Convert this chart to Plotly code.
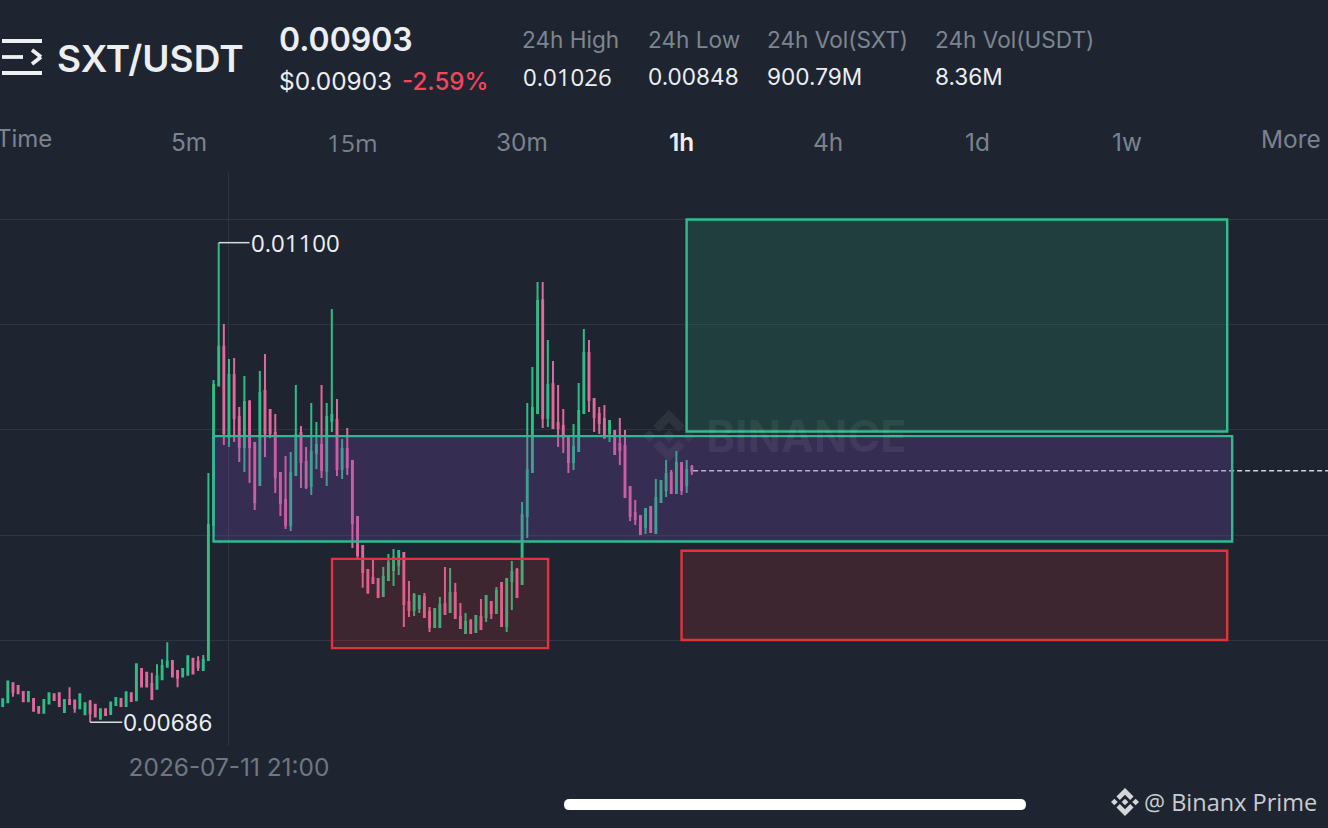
import numpy as np
import pandas as pd
import plotly.graph_objects as go

W, H = 1328, 828
PLOT_TOP, PLOT_BOTTOM = 172, 746
BG = "#1e2530"
UP = "#2ebd85"
DOWN = "#e0699c"
FONT = "Inter"
ALT = "Open Sans"

# OHLC, in units of 0.00001 USDT
open_e5 = [700.1,703.2,719.6,717.3,712.2,704.1,706.1,699.2,694.3,702.1,710.1,711.0,694.9,705.3,704.7,698.1,692.9,703.8,701.2,689.1,
697.2,693.2,700.9,706.1,700.1,711.0,705.0,732.0,728.8,719.1,715.0,723.1,734.0,738.9,730.3,725.4,727.1,740.9,738.3,731.1,
739.8,856.3,976.6,1010.2,932.3,985.8,949.5,923.6,962.5,927.1,890.8,972.0,955.6,935.7,901.2,877.9,856.3,899.5,935.7,910.7,
890.0,918.5,925.4,903.0,946.1,947.0,904.7,921.9,911.6,863.2,838.2,817.5,810.6,809.7,795.0,808.8,817.5,821.8,832.2,789.9,
783.0,784.7,794.2,781.2,768.3,768.3,788.1,781.2,797.6,776.9,763.1,773.4,764.0,776.9,776.9,789.9,780.4,806.3,769.1,808.0,
817.5,805.4,864.1,902.1,953.0,1050.5,948.7,978.0,944.4,941.8,933.1,910.7,920.2,953.0,1004.8,965.1,952.1,947.8,935.7,937.5,
926.2,924.5,889.1,866.7,864.1,854.6,871.9,849.4,876.2,886.5,901.2,884.0,909.8,890.8,906.4]
high_e5 = [705.8,721.1,720.2,717.3,712.2,712.2,706.1,699.2,705.3,711.0,710.1,711.0,705.3,716.2,705.3,710.1,702.4,705.3,701.2,697.2,
697.2,703.0,707.0,706.1,711.9,711.0,736.0,732.0,728.8,728.8,736.0,740.4,755.0,738.9,730.3,732.0,743.0,740.9,743.0,744.1,
901.2,981.5,1100.0,1029.8,999.6,1000.5,958.2,984.9,964.2,927.1,989.3,1003.9,956.4,952.1,901.2,915.9,919.3,977.2,941.8,923.6,
961.6,945.2,977.2,961.6,1042.8,965.1,930.5,940.0,911.6,863.2,838.2,817.5,827.0,809.7,820.1,831.3,835.6,833.9,832.2,808.0,
797.6,795.0,797.6,785.5,783.8,794.2,820.1,819.2,806.3,789.0,780.4,775.2,777.8,792.4,795.0,789.9,802.8,806.3,809.7,825.3,
819.2,876.2,961.6,992.7,1066.1,1066.1,1016.0,997.9,977.2,956.4,933.1,943.5,978.9,1025.5,1016.0,965.1,958.2,959.9,946.1,937.5,
948.7,938.3,889.1,877.9,864.1,870.1,871.9,896.0,894.3,912.4,903.8,920.2,909.8,912.4,908.1]
low_e5 = [700.1,703.2,708.1,711.0,704.1,704.1,696.0,694.3,694.3,702.1,705.3,700.1,694.9,700.9,694.3,698.1,692.9,686.0,690.9,689.1,
692.3,693.2,700.9,700.1,700.1,704.4,705.0,716.8,716.8,706.1,715.0,723.1,734.0,725.4,716.2,725.4,727.1,728.0,730.3,731.1,
739.5,856.3,976.6,925.4,923.6,928.0,910.7,902.1,892.6,869.3,890.8,915.0,931.4,884.0,864.1,852.9,851.1,899.5,888.3,887.4,
882.2,904.7,896.9,890.0,936.6,898.6,896.0,899.5,836.4,827.8,802.0,796.8,806.3,794.2,795.0,808.0,803.7,813.2,768.3,776.9,
777.8,780.4,776.9,764.0,768.3,768.3,778.6,780.4,776.0,766.5,762.2,762.2,764.0,766.5,772.6,775.2,780.4,769.1,764.0,783.0,
794.2,805.4,845.1,902.1,953.0,940.0,940.9,939.2,923.6,918.5,901.2,903.8,920.2,953.0,953.9,936.6,934.9,930.5,928.0,917.6,
908.1,880.5,859.8,856.3,848.6,848.6,850.3,849.4,875.3,880.5,883.1,884.0,882.2,884.0,899.5]
close_e5 = [705.8,721.1,712.4,711.0,704.1,712.2,696.0,694.3,705.3,711.0,705.3,700.1,705.3,701.8,698.1,710.1,702.4,693.7,690.9,697.2,
692.3,703.0,707.0,700.1,711.9,704.4,736.0,716.8,716.8,706.1,725.4,734.6,738.3,725.4,724.5,732.0,743.0,728.0,733.4,739.8,
856.3,977.2,1010.2,935.7,985.8,948.7,923.6,962.5,923.6,876.2,970.3,935.7,935.7,897.8,875.3,856.3,901.2,934.0,910.7,889.1,
919.3,925.4,903.8,949.5,951.3,904.7,921.9,906.4,858.0,830.4,815.7,798.5,806.3,794.2,811.4,823.5,827.8,833.9,788.1,783.0,
795.9,795.0,776.9,768.3,783.8,787.3,779.5,797.6,776.0,767.4,772.6,763.1,777.8,766.5,795.0,780.4,799.3,769.1,809.7,815.7,
794.2,864.9,903.8,957.3,1049.7,948.7,977.2,940.0,940.0,932.3,910.7,923.6,954.7,1004.8,964.2,949.5,944.4,932.3,946.1,917.6,
921.0,880.5,864.1,861.5,848.6,870.1,850.3,879.6,894.3,900.3,884.0,909.8,886.5,903.8,903.0]
times = pd.date_range("2026-07-10 01:00", periods=len(open_e5), freq="h")

grid_prices = [0.011203, 0.010293, 0.009383, 0.008473, 0.007563, 0.006660]
axis_tick_time = ["2026-07-11 21:00"]
axis_tick_text = ["2026-07-11 21:00"]
high_mark = ("2026-07-11 19:00", 0.01100, "2026-07-12 01:00", "0.01100", ALT, 24)
low_mark = ("2026-07-10 18:00", 0.00686, "2026-07-11 00:15", "0.00686", FONT, 22.4)
last_price = 0.00903

# start, end, low price, high price, line colour, fill colour
zones = [
    ("2026-07-15 13:59", "2026-07-19 23:06", 0.00937, 0.01120, "#2fbd8c", "rgba(46,189,133,0.17)"),
    ("2026-07-11 18:00", "2026-07-20 00:04", 0.00842, 0.00933, "#37b591", "rgba(122,73,184,0.25)"),
    ("2026-07-12 17:02", "2026-07-14 11:03", 0.00750, 0.00827, "#e5323a", "rgba(226,48,56,0.17)"),
    ("2026-07-15 13:00", "2026-07-19 23:06", 0.00757, 0.00834, "#e5323a", "rgba(226,48,56,0.17)"),
]

to_price = lambda a: np.array(a) * 1e-5


def fx(x):
    return x / W


def fy(y):
    return (PLOT_BOTTOM - y) / (PLOT_BOTTOM - PLOT_TOP)


def px(x, y):
    return f"{fx(x):.5f},{fy(y):.5f}"


def path(points):
    return "M" + " L".join(px(*p) for p in points) + " Z"


def logo(cx, cy, r, color, layer):
    parts = [
        [(0, -1), (.61, -.39), (.37, -.15), (0, -.52), (-.37, -.15), (-.61, -.39)],
        [(0, 1), (.61, .39), (.37, .15), (0, .52), (-.37, .15), (-.61, .39)],
        [(0, -.24), (.24, 0), (0, .24), (-.24, 0)],
        [(-.76, -.24), (-.52, 0), (-.76, .24), (-1, 0)],
        [(.76, -.24), (1, 0), (.76, .24), (.52, 0)],
    ]
    return [dict(type="path", xref="paper", yref="paper", layer=layer, line_width=0, fillcolor=color,
                 path=path([(cx + a * r, cy + b * r) for a, b in pts])) for pts in parts]


def pline(x0, y0, x1, y1, color="#eef0f3", width=3.8):
    return dict(type="line", xref="paper", yref="paper", x0=fx(x0), x1=fx(x1), y0=fy(y0), y1=fy(y1),
                line=dict(color=color, width=width))


def txt(s, x, y, size, color, anchor="left", weight=400, family=FONT):
    return dict(text=s, xref="paper", yref="paper", x=fx(x), y=fy(y), xanchor=anchor, yanchor="middle",
                showarrow=False, borderpad=0, font=dict(size=size, color=color, family=family, weight=weight))


fig = go.Figure()
fig.add_trace(go.Candlestick(
    x=times, open=to_price(open_e5), high=to_price(high_e5), low=to_price(low_e5), close=to_price(close_e5),
    increasing=dict(line=dict(color=UP, width=2.0), fillcolor=UP),
    decreasing=dict(line=dict(color=DOWN, width=2.0), fillcolor=DOWN),
    whiskerwidth=0, showlegend=False))
fig.add_trace(go.Scatter(
    x=[times[-1] + pd.Timedelta(minutes=15), "2026-07-20 18:42"], y=[last_price, last_price], mode="lines",
    line=dict(color="#d0d2d5", width=1.5, dash="5px,3px"), showlegend=False))

shapes = []
for x0, x1, lo, hi, lc, fc in zones:
    shapes.append(dict(type="rect", xref="x", yref="y", x0=x0, x1=x1, y0=lo, y1=hi,
                       line=dict(color=lc, width=2.4), fillcolor=fc))
for t0, price, t1, *_ in (high_mark, low_mark):
    shapes.append(dict(type="line", xref="x", yref="y", x0=t0, x1=t1, y0=price, y1=price,
                       line=dict(color="#d8dadd", width=1.5)))
shapes += logo(669, 436, 26, "rgba(255,255,255,0.065)", "below")
shapes += logo(1125, 802, 14, "#d4d6d9", "above")
# menu icon
shapes += [pline(2, 41, 42, 41), pline(2, 57, 23, 57), pline(2, 73, 42, 73),
           pline(32, 50, 41, 57), pline(41, 57, 32, 64)]
# home indicator
a, b, c, d = 564, 799, 1026, 810
rr = 5.5
shapes.append(dict(type="path", xref="paper", yref="paper", line_width=0, fillcolor="#ffffff",
                   path=f"M{px(a + rr, b)} L{px(c - rr, b)} Q{px(c, b)} {px(c, b + rr)} Q{px(c, d)} {px(c - rr, d)} "
                        f"L{px(a + rr, d)} Q{px(a, d)} {px(a, b + rr)} Q{px(a, b)} {px(a + rr, b)} Z"))

WHITE = "#eceef1"
GREY = "#7d8591"
TAB = "#7b838f"
ann = [
    txt("SXT/USDT", 56, 58, 37, WHITE, weight=600),
    txt("0.00903", 278, 40, 32, WHITE, weight=600),
    txt("$0.00903", 278, 81, 24.4, WHITE),
    txt("-2.59%", 401, 81, 24.2, "#f6465d", weight=500),
    txt("24h High", 521, 40, 22.6, GREY), txt("0.01026", 522, 76, 24, WHITE, family=ALT),
    txt("24h Low", 647, 40, 22.6, GREY), txt("0.00848", 647, 76, 22.6, WHITE),
    txt("24h Vol(SXT)", 766, 40, 22.6, GREY), txt("900.79M", 766, 76, 22.6, WHITE),
    txt("24h Vol(USDT)", 934, 40, 22.6, GREY), txt("8.36M", 934, 76, 22.6, WHITE),
    txt("Time", -5, 139, 24, TAB),
    txt("5m", 189, 142, 24.4, TAB, "center"), txt("15m", 352, 142, 24.4, TAB, "center", family=ALT),
    txt("30m", 522, 142, 24.4, TAB, "center"), txt("1h", 681, 142, 24.4, WHITE, "center", 600),
    txt("4h", 828, 142, 24.4, TAB, "center"), txt("1d", 977, 142, 24.4, TAB, "center"),
    txt("1w", 1127, 142, 24.4, TAB, "center"), txt("More", 1291, 139, 24.4, TAB, "center"),
    txt("BINANCE", 705, 436, 44, "rgba(255,255,255,0.065)", weight=700),
    txt("@ Binanx Prime", 1143, 802, 23.5, "#c9ccd0", family="Open Sans"),
]
for t0, price, t1, label, fam, size in (high_mark, low_mark):
    ann.append(dict(text=label, xref="x", yref="y", x=t1, y=price, xanchor="left", yanchor="middle",
                    showarrow=False, borderpad=0, font=dict(size=size, color=WHITE, family=fam)))

fig.update_layout(
    width=W, height=H, autosize=False,
    margin=dict(l=0, r=0, t=PLOT_TOP, b=H - PLOT_BOTTOM),
    paper_bgcolor=BG, plot_bgcolor=BG,
    boxgap=0.75,
    shapes=shapes, annotations=ann, hovermode=False,
    xaxis=dict(type="date", range=["2026-07-10 00:28:30", "2026-07-20 18:42"], rangeslider=dict(visible=False),
               tickvals=axis_tick_time, ticktext=axis_tick_text, showgrid=True, gridcolor="#2e3440", gridwidth=1,
               zeroline=False, showline=False, ticks="", ticklabelstandoff=5,
               tickfont=dict(size=24.4, color="#6f7783", family=FONT)),
    yaxis=dict(range=[0.006655, 0.01161], tickvals=grid_prices, showticklabels=False, showgrid=True,
               gridcolor="#2e3440", gridwidth=1, zeroline=False, showline=False, ticks=""),
)
fig.write_html("out.html", config=dict(displayModeBar=False),
               post_script="document.body.style.margin='0';document.body.style.overflow='hidden';")
